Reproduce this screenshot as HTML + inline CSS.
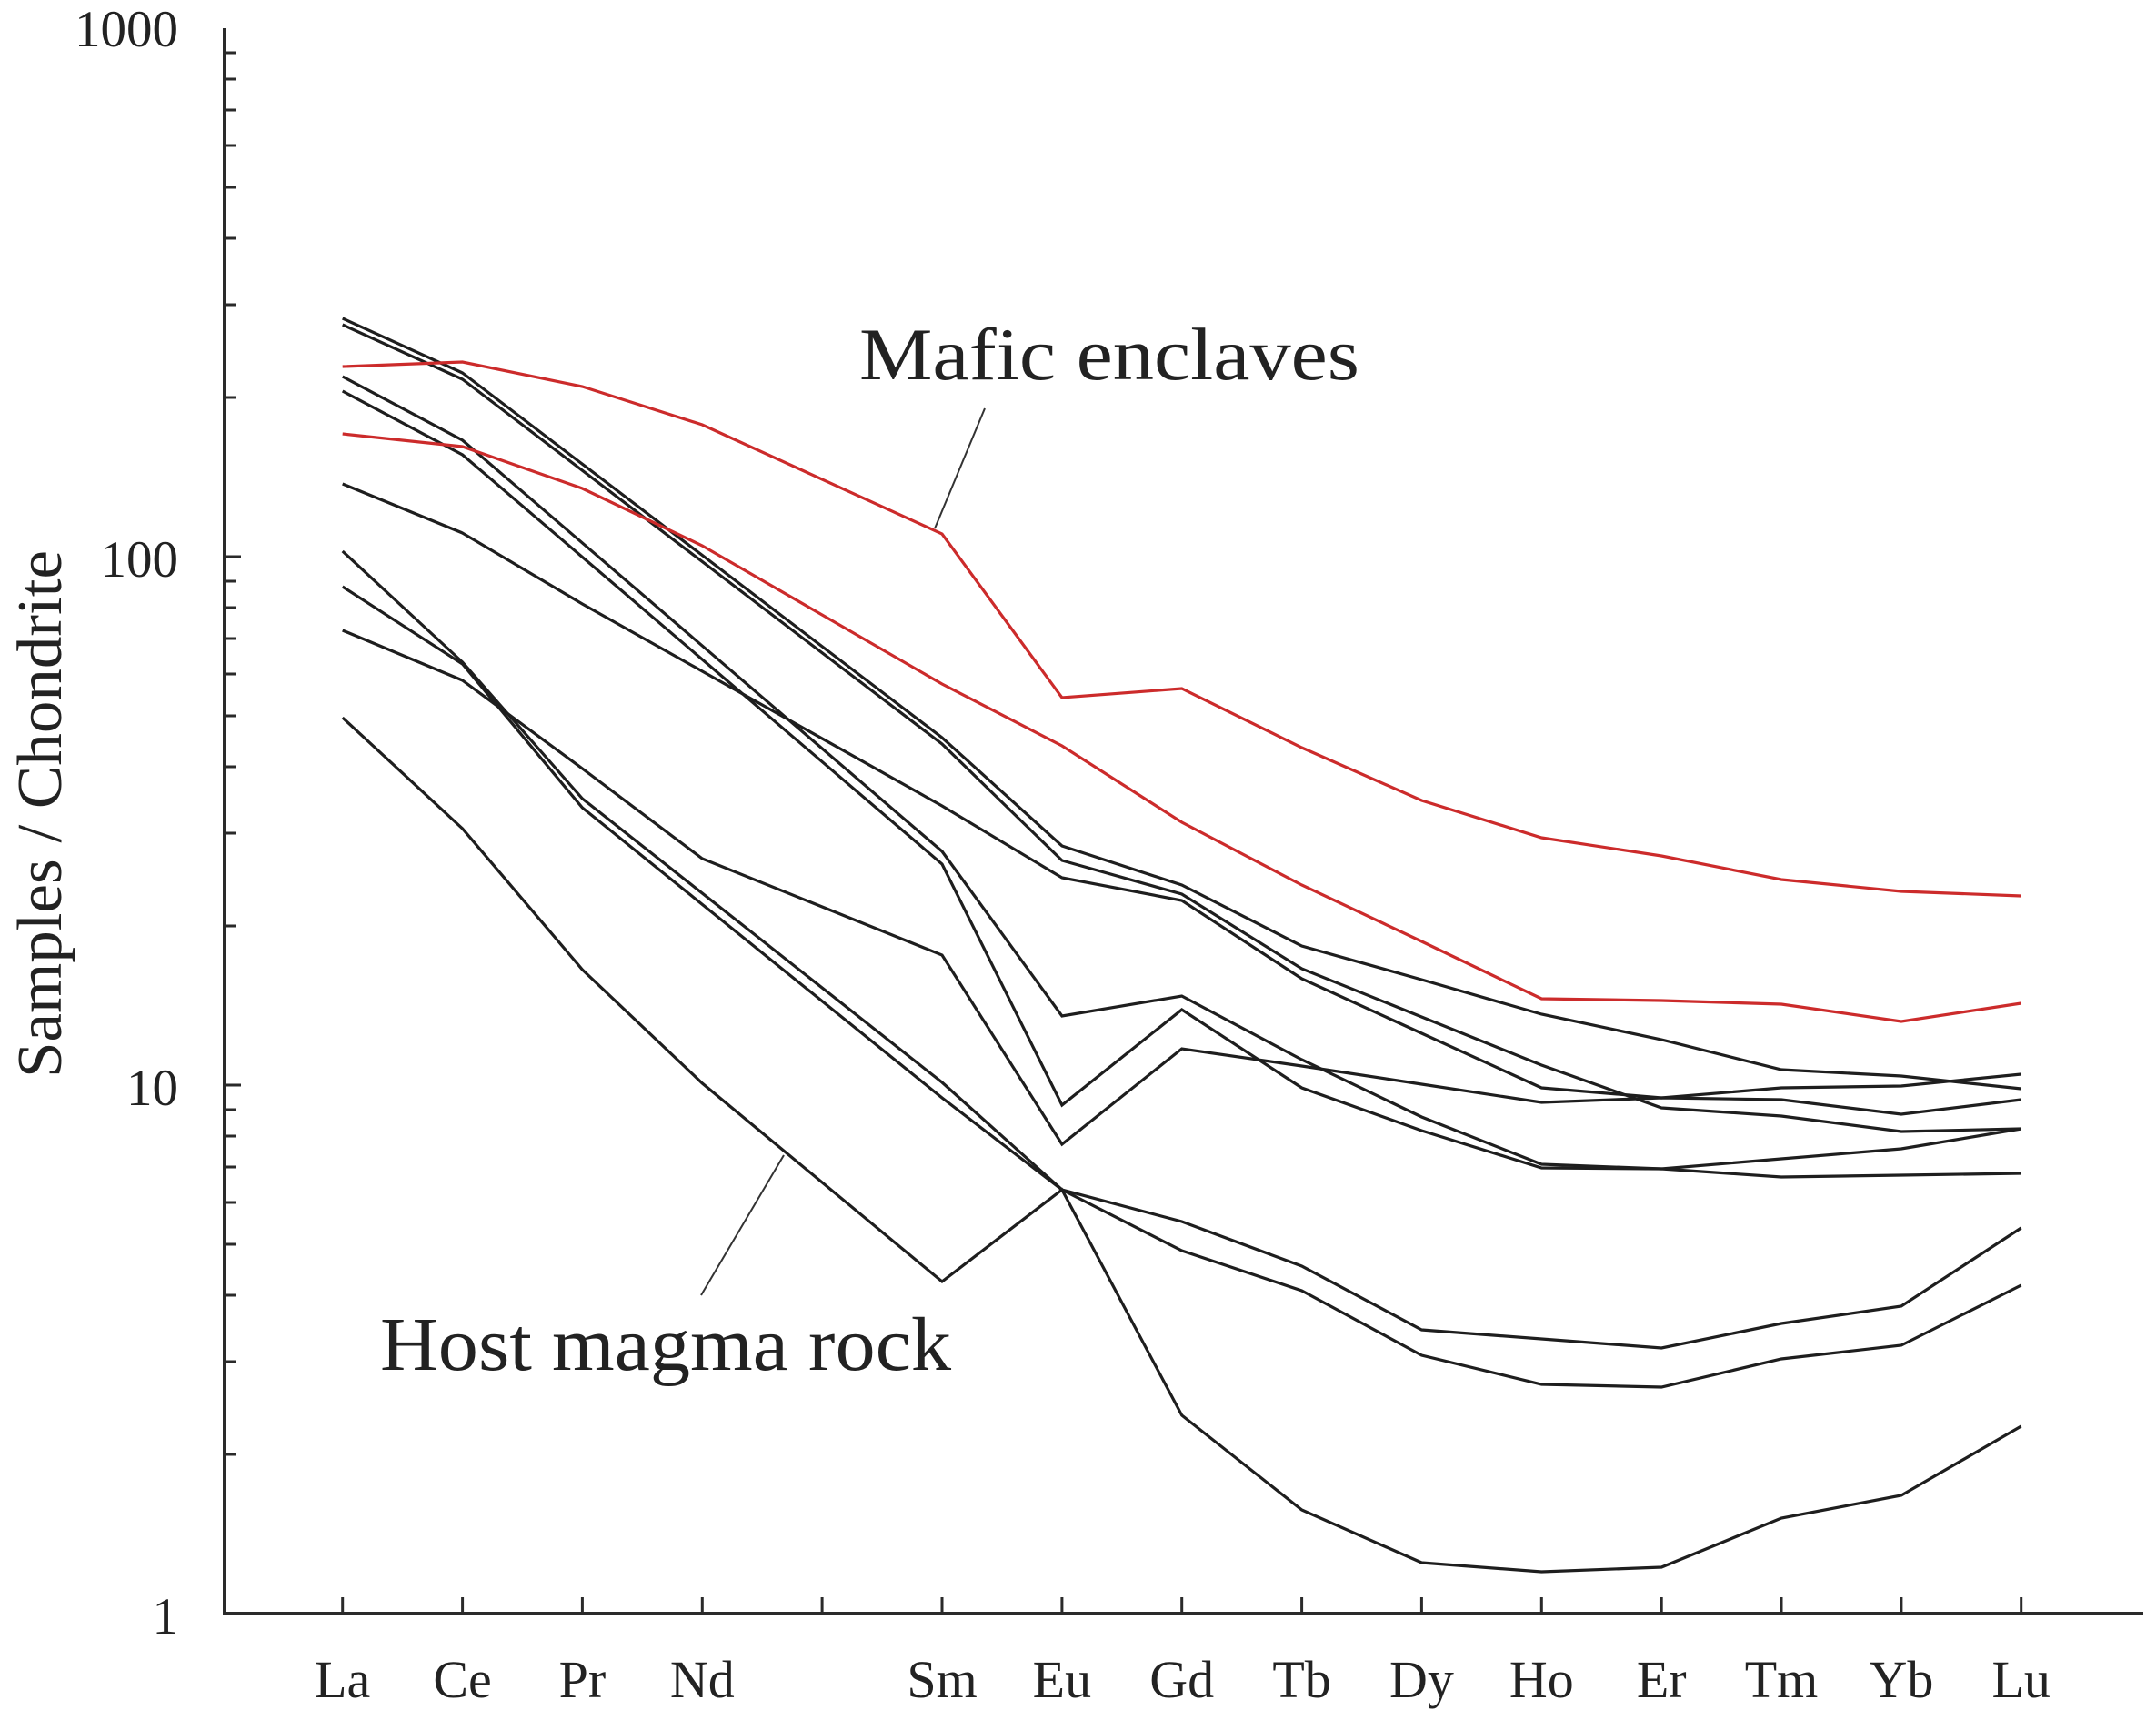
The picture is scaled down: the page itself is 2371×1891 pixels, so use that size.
<!DOCTYPE html>
<html>
<head>
<meta charset="utf-8">
<style>
  html,body{margin:0;padding:0;background:#fff;}
  svg{display:block;}
  text{font-family:"Liberation Serif","Times New Roman",serif;fill:#222;}
</style>
</head>
<body>
<svg width="2371" height="1891" viewBox="0 0 2371 1891" xmlns="http://www.w3.org/2000/svg">
  <rect x="0" y="0" width="2371" height="1891" fill="#fff"/>

  <!-- Axes -->
  <g stroke="#2a2a2a" stroke-width="4" fill="none">
    <line x1="247" y1="31" x2="247" y2="1776"/>
    <line x1="245" y1="1774" x2="2357" y2="1774"/>
  </g>

  <!-- Y ticks (log scale: y = 1774 - 581*log10(v)) -->
  <g stroke="#2a2a2a" stroke-width="3">
    <!-- 1..10 -->
    <line x1="247" y1="1599" x2="259" y2="1599"/>
    <line x1="247" y1="1497" x2="259" y2="1497"/>
    <line x1="247" y1="1424" x2="259" y2="1424"/>
    <line x1="247" y1="1368" x2="259" y2="1368"/>
    <line x1="247" y1="1322" x2="259" y2="1322"/>
    <line x1="247" y1="1283" x2="259" y2="1283"/>
    <line x1="247" y1="1249" x2="259" y2="1249"/>
    <line x1="247" y1="1220" x2="259" y2="1220"/>
    <line x1="247" y1="1193" x2="265" y2="1193"/>
    <!-- 10..100 -->
    <line x1="247" y1="1018" x2="259" y2="1018"/>
    <line x1="247" y1="916" x2="259" y2="916"/>
    <line x1="247" y1="843" x2="259" y2="843"/>
    <line x1="247" y1="787" x2="259" y2="787"/>
    <line x1="247" y1="741" x2="259" y2="741"/>
    <line x1="247" y1="702" x2="259" y2="702"/>
    <line x1="247" y1="668" x2="259" y2="668"/>
    <line x1="247" y1="639" x2="259" y2="639"/>
    <line x1="247" y1="612" x2="265" y2="612"/>
    <!-- 100..1000 -->
    <line x1="247" y1="437" x2="259" y2="437"/>
    <line x1="247" y1="335" x2="259" y2="335"/>
    <line x1="247" y1="262" x2="259" y2="262"/>
    <line x1="247" y1="206" x2="259" y2="206"/>
    <line x1="247" y1="160" x2="259" y2="160"/>
    <line x1="247" y1="121" x2="259" y2="121"/>
    <line x1="247" y1="87" x2="259" y2="87"/>
    <line x1="247" y1="58" x2="259" y2="58"/>
  </g>

  <!-- X ticks -->
  <g stroke="#2a2a2a" stroke-width="3">
    <line x1="376.7" y1="1774" x2="376.7" y2="1756"/>
    <line x1="508.6" y1="1774" x2="508.6" y2="1756"/>
    <line x1="640.4" y1="1774" x2="640.4" y2="1756"/>
    <line x1="772.3" y1="1774" x2="772.3" y2="1756"/>
    <line x1="904.1" y1="1774" x2="904.1" y2="1756"/>
    <line x1="1036" y1="1774" x2="1036" y2="1756"/>
    <line x1="1167.9" y1="1774" x2="1167.9" y2="1756"/>
    <line x1="1299.7" y1="1774" x2="1299.7" y2="1756"/>
    <line x1="1431.6" y1="1774" x2="1431.6" y2="1756"/>
    <line x1="1563.4" y1="1774" x2="1563.4" y2="1756"/>
    <line x1="1695.3" y1="1774" x2="1695.3" y2="1756"/>
    <line x1="1827.2" y1="1774" x2="1827.2" y2="1756"/>
    <line x1="1959" y1="1774" x2="1959" y2="1756"/>
    <line x1="2090.9" y1="1774" x2="2090.9" y2="1756"/>
    <line x1="2222.7" y1="1774" x2="2222.7" y2="1756"/>
  </g>

  <!-- Y tick labels -->
  <g font-size="57" text-anchor="end">
    <text x="196" y="51">1000</text>
    <text x="196" y="634">100</text>
    <text x="196" y="1215">10</text>
    <text x="196" y="1796">1</text>
  </g>

  <!-- X labels -->
  <g font-size="58" text-anchor="middle">
    <text x="376.7" y="1866">La</text>
    <text x="508.6" y="1866">Ce</text>
    <text x="640.4" y="1866">Pr</text>
    <text x="772.3" y="1866">Nd</text>
    <text x="1036" y="1866">Sm</text>
    <text x="1167.9" y="1866">Eu</text>
    <text x="1299.7" y="1866">Gd</text>
    <text x="1431.6" y="1866">Tb</text>
    <text x="1563.4" y="1866">Dy</text>
    <text x="1695.3" y="1866">Ho</text>
    <text x="1827.2" y="1866">Er</text>
    <text x="1959" y="1866">Tm</text>
    <text x="2090.9" y="1866">Yb</text>
    <text x="2222.7" y="1866">Lu</text>
  </g>

  <!-- Y axis title -->
  <text transform="translate(67,895) rotate(-90)" font-size="70" text-anchor="middle" textLength="580" lengthAdjust="spacingAndGlyphs">Samples / Chondrite</text>

  <!-- Annotations -->
  <text x="945" y="417" font-size="82" textLength="550" lengthAdjust="spacingAndGlyphs">Mafic enclaves</text>
  <text x="418" y="1506" font-size="84" textLength="628" lengthAdjust="spacingAndGlyphs">Host magma rock</text>
  <g stroke="#333" stroke-width="2">
    <line x1="1028" y1="581" x2="1083" y2="449"/>
    <line x1="862" y1="1270" x2="771" y2="1424"/>
  </g>

  <!-- Data: black series -->
  <g fill="none" stroke="#1e1e1e" stroke-width="3.2" stroke-linejoin="miter">
    <!-- B1 -->
    <polyline points="376.7,350 508.6,410 1036,811 1167.9,930 1299.7,973 1431.6,1040 1563.4,1077 1695.3,1115 1827.2,1143 1959,1176 2090.9,1183 2222.7,1197"/>
    <!-- B2 -->
    <polyline points="376.7,357 508.6,417 1036,818 1167.9,946 1299.7,983 1431.6,1065 1563.4,1118 1695.3,1171 1827.2,1218 1959,1227 2090.9,1244 2222.7,1241"/>
    <!-- B3 -->
    <polyline points="376.7,414 508.6,484 1036,936 1167.9,1117 1299.7,1095 1431.6,1165 1563.4,1228 1695.3,1280 1827.2,1285 1959,1294 2090.9,1292 2222.7,1290"/>
    <!-- B4 -->
    <polyline points="376.7,430 508.6,500 1036,950 1167.9,1215 1299.7,1110 1431.6,1196 1563.4,1243 1695.3,1284 1827.2,1285 1959,1274 2090.9,1263 2222.7,1241"/>
    <!-- B5 -->
    <polyline points="376.7,532 508.6,586 640.4,664 772.3,738 1036,886 1167.9,965 1299.7,990 1431.6,1076 1563.4,1136 1695.3,1196 1827.2,1207 1959,1196 2090.9,1194 2222.7,1181"/>
    <!-- B8 -->
    <polyline points="376.7,693 508.6,748 640.4,845 772.3,944 1036,1050 1167.9,1258 1299.7,1153 1431.6,1172 1563.4,1192 1695.3,1212 1827.2,1207 1959,1209 2090.9,1225 2222.7,1209"/>
    <!-- B6 -->
    <polyline points="376.7,606 508.6,728 640.4,878 1036,1190 1167.9,1308 1299.7,1343 1431.6,1392 1563.4,1462 1695.3,1472 1827.2,1482 1959,1455 2090.9,1436 2222.7,1350"/>
    <!-- B7 -->
    <polyline points="376.7,645 508.6,730 640.4,888 1036,1207 1167.9,1308 1299.7,1375 1431.6,1419 1563.4,1490 1695.3,1522 1827.2,1525 1959,1494 2090.9,1479 2222.7,1413"/>
    <!-- B9 -->
    <polyline points="376.7,789 508.6,911 640.4,1066 772.3,1191 1036,1409 1167.9,1308 1299.7,1556 1431.6,1660 1563.4,1718 1695.3,1728 1827.2,1723 1959,1669 2090.9,1644 2222.7,1568"/>
  </g>

  <!-- Data: red series -->
  <g fill="none" stroke="#cc2b2b" stroke-width="3.2" stroke-linejoin="miter">
    <polyline points="376.7,403 508.6,398 640.4,425 772.3,467 1036,587 1167.9,767 1299.7,757 1431.6,822 1563.4,880 1695.3,921 1827.2,941 1959,967 2090.9,980 2222.7,985"/>
    <polyline points="376.7,477 508.6,491 640.4,537 772.3,600 904.1,676 1036,752 1167.9,820 1299.7,904 1431.6,973 1563.4,1035 1695.3,1098 1827.2,1100 1959,1104 2090.9,1123 2222.7,1103"/>
  </g>
</svg>
</body>
</html>
